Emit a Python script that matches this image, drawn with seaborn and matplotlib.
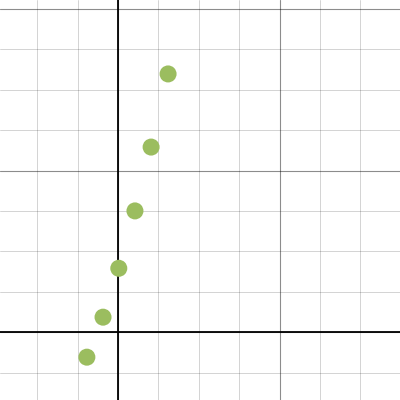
import matplotlib
matplotlib.use("Agg")
import matplotlib.pyplot as plt
import seaborn as sns
import pandas as pd
import numpy as np

x_vals = [-0.77, -0.37, 0.02, 0.42, 0.82, 1.24]
y_vals = [-0.62, 0.37, 1.58, 3.0, 4.58, 6.39]
df = pd.DataFrame({"x": x_vals, "y": y_vals})

sns.set_style("white")
fig = plt.figure(figsize=(4, 4), dpi=100)
ax = fig.add_axes([0, 0, 1, 1])
ax.set_xlim(-2.92, 6.98)
ax.set_ylim(-1.68, 8.22)
for v in range(-2, 7):
    ax.axvline(v, color="#000000", lw=0.8 if v % 4 == 0 else 0.6, alpha=0.45 if v % 4 == 0 else 0.2, zorder=0)
for v in range(-1, 9):
    ax.axhline(v, color="#000000", lw=0.8 if v % 4 == 0 else 0.6, alpha=0.45 if v % 4 == 0 else 0.2, zorder=0)
ax.axvline(0, color="black", lw=1.3, zorder=1)
ax.axhline(0, color="black", lw=1.3, zorder=1)
sns.scatterplot(data=df, x="x", y="y", ax=ax, color="#9bbd5f", s=150, edgecolor="none", zorder=3)
ax.set_xticks([]); ax.set_yticks([])
ax.set_xlabel(""); ax.set_ylabel("")
for s in ax.spines.values():
    s.set_visible(False)
fig.savefig("out.png", dpi=100)
